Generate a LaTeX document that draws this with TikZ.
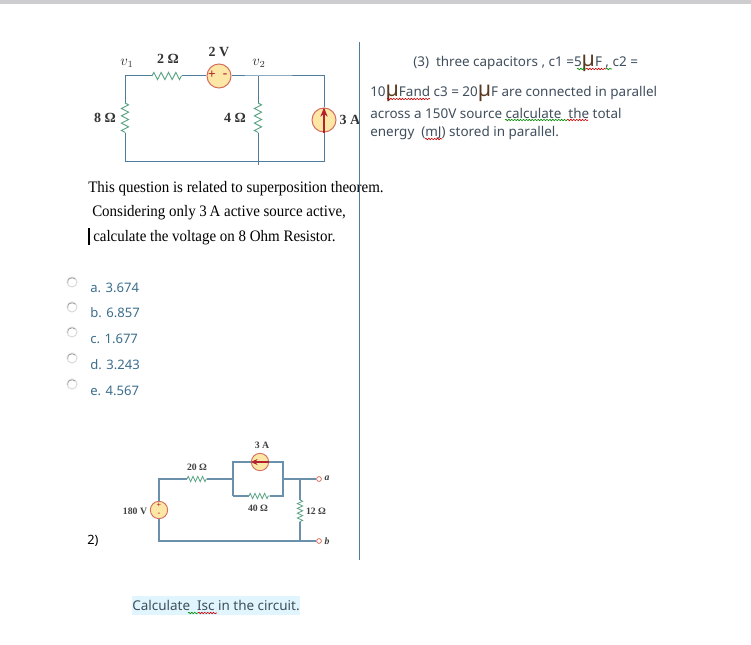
\documentclass[tikz,border=0pt]{standalone}
\usepackage{fontspec}
\setmainfont{Liberation Serif}
\newfontfamily\uifont{Noto Sans}
\newfontfamily\questionfont[FakeStretch=0.935]{Liberation Serif}
\usetikzlibrary{arrows.meta, decorations.pathmorphing}
\definecolor{wirecol}{HTML}{4F7C9C}
\definecolor{softwire}{HTML}{6A90AC}
\definecolor{rescol}{HTML}{5BA585}
\definecolor{srcfill}{HTML}{FCE7A6}
\definecolor{srcdraw}{HTML}{D5705E}
\definecolor{arrowcol}{HTML}{B3202E}
\definecolor{slatetext}{HTML}{3F4E5C}
\definecolor{answertext}{HTML}{3C6E8C}
\definecolor{mucol}{HTML}{5A3A1E}
\newcommand{\bigmu}{{\fontsize{16}{16}\selectfont\color{mucol}µ}}

\begin{document}
\begin{tikzpicture}[
        wire/.style = {draw=wirecol, line width=0.75pt},
        thinwire/.style = {draw=softwire, line width=0.9pt},
        resbig/.style = {draw=rescol, line width=0.7pt, decorate, decoration={zigzag, amplitude=2.7pt, segment length=5.5pt}},
        ressmall/.style = {draw=rescol, line width=0.6pt, decorate, decoration={zigzag, amplitude=2pt, segment length=3.6pt}},
        srcbig/.style = {circle, draw=srcdraw, fill=srcfill, line width=0.8pt, minimum size=18pt, inner sep=0pt},
        srcsmall/.style = {circle, draw=srcdraw, fill=srcfill, line width=0.7pt, minimum size=13pt, inner sep=0pt},
        bigval/.style = {font=\fontsize{10.5}{11}\selectfont, text=black!80, inner sep=0pt},
        smallval/.style = {font=\fontsize{7.3}{8}\selectfont\bfseries, text=black!75, inner sep=0pt},
        polarity/.style = {font=\fontsize{10}{10}\selectfont\bfseries, text=arrowcol, inner sep=0pt},
        polaritysmall/.style = {font=\fontsize{6}{6}\selectfont\bfseries, text=arrowcol, inner sep=0pt},
        question/.style = {font=\questionfont\fontsize{12}{14}\selectfont, anchor=west, inner sep=0pt, text=black},
        uitext/.style = {font=\uifont\fontsize{10.1}{12}\selectfont, text=slatetext, anchor=west, inner sep=0pt},
        answer/.style = {font=\uifont\fontsize{9.8}{12}\selectfont, text=answertext, anchor=west, inner sep=0pt},
        radiobtn/.style = {circle, draw=black!15, line width=0.7pt, minimum size=7.5pt, inner sep=0pt,
            path picture={\draw[black!60, line width=0.9pt] (path picture bounding box.center) ++(40:3.5pt) arc[start angle=40, end angle=200, radius=3.5pt];}},
        terminal/.style = {circle, draw=srcdraw, fill=white, line width=0.6pt, minimum size=3.6pt, inner sep=0pt},
        redsquig/.style = {draw=red!80!black, line width=0.45pt, decorate, decoration={snake, amplitude=0.55pt, segment length=2.2pt}},
        greensquig/.style = {draw=green!55!black, line width=0.45pt, decorate, decoration={snake, amplitude=0.55pt, segment length=2.2pt}},
        x=0.75pt,y=-0.75pt,
    ]
    \path[use as bounding box, fill=white] (0,0) rectangle (751,645);
    \fill[black!3!blue!4!gray!38] (0,0) rectangle (751,4);

    % first circuit
    \coordinate (tl) at (125,76);
    \coordinate (tr) at (324,76);
    \coordinate (bl) at (125,162);
    \coordinate (br) at (324,162);
    \coordinate (vtwo) at (258,76);
    \coordinate (midend) at (258,165);
    \coordinate (rtwoa) at (152,76);
    \coordinate (rtwob) at (182,76);
    \coordinate (reighta) at (125,103);
    \coordinate (reightb) at (125,133);
    \coordinate (rfoura) at (258,103);
    \coordinate (rfourb) at (258,133);
    \node[srcbig] (vsrc) at (219,76) {};
    \node[srcbig] (isrc) at (324,120) {};
    \node[bigval] (lbltwo) at (168,59) {\textbf{2 Ω}};
    \node[bigval] (lblvolt) at (219,52) {\textbf{2 V}};
    \node[bigval] (lblvone) at (127,63) {$v_1$};
    \node[bigval] (lblvtwo) at (259,63) {$v_2$};
    \node[bigval] (lbleight) at (105,118) {\textbf{8 Ω}};
    \node[bigval] (lblfour) at (235,118) {\textbf{4 Ω}};
    \node[bigval] (lblamp) at (350,120) {\textbf{3 A}};
    \node[polarity] (plus) at (212,75) {+};
    \node[polarity] (minus) at (225,76) {-};
    \draw[wire] (reighta) -- (tl) -- (rtwoa);
    \draw[wire] (rtwob) -- (vsrc);
    \draw[wire] (vsrc) -- (vtwo) -- (tr) -- (isrc);
    \draw[wire] (isrc) -- (br) -- (bl) -- (reightb);
    \draw[wire] (vtwo) -- (rfoura);
    \draw[wire] (rfourb) -- (midend);
    \draw[resbig] (rtwoa) -- (rtwob);
    \draw[resbig] (reighta) -- (reightb);
    \draw[resbig] (rfoura) -- (rfourb);
    \draw[arrowcol, line width=0.9pt, -{Stealth[length=7pt,width=5.5pt]}] (isrc.south) -- (isrc.north);

    % question
    \node[question] (qone) at (88,188.5) {This question is related to superposition theorem.};
    \node[question] (qtwo) at (92,212.5) {Considering only 3\,A active source active,};
    \node[question] (qthree) at (93,237.5) {calculate the voltage on 8 Ohm Resistor.};
    \coordinate (cursortop) at (89,228);
    \coordinate (cursorbot) at (89,245);
    \draw[black, line width=0.9pt] (cursortop) -- (cursorbot);

    % answers
    \node[radiobtn] (ra) at (72,282) {};
    \node[radiobtn] (rb) at (72,307) {};
    \node[radiobtn] (rc) at (72,332) {};
    \node[radiobtn] (rd) at (72,358) {};
    \node[radiobtn] (re) at (72,384) {};
    \node[answer] (aa) at (90,288) {a. 3.674};
    \node[answer] (ab) at (90,313) {b. 6.857};
    \node[answer] (ac) at (90,339) {c. 1.677};
    \node[answer] (ad) at (90,365) {d. 3.243};
    \node[answer] (ae) at (90,391) {e. 4.567};

    % second circuit
    \coordinate (stl) at (159,479);
    \coordinate (sbl) at (159,541);
    \coordinate (boxl) at (233,479);
    \coordinate (boxr) at (283,479);
    \coordinate (boxtl) at (233,462);
    \coordinate (boxtr) at (283,462);
    \coordinate (boxbl) at (233,496);
    \coordinate (boxbr) at (283,496);
    \coordinate (jta) at (300,479);
    \coordinate (jtb) at (300,541);
    \coordinate (rtwentya) at (187,479);
    \coordinate (rtwentyb) at (207,479);
    \coordinate (rfortya) at (249,496);
    \coordinate (rfortyb) at (270,496);
    \coordinate (rtwelvea) at (300,500);
    \coordinate (rtwelveb) at (300,522);
    \node[srcsmall] (vbat) at (159,510) {};
    \node[polaritysmall] (batplus) at (159,505.5) {+};
    \node[polaritysmall] (batminus) at (159,514.5) {-};
    \node[srcsmall] (ibox) at (260,462) {};
    \node[terminal] (terma) at (319,479) {};
    \node[terminal] (termb) at (319,541) {};
    \node[smallval] (lblthree) at (262,445) {3 A};
    \node[smallval] (lbltwenty) at (197,467) {20 Ω};
    \node[smallval] (lblforty) at (258,508) {40 Ω};
    \node[smallval] (lblbat) at (135,511) {180 V};
    \node[smallval] (lbltwelve) at (316,511) {12 Ω};
    \node[smallval] (lbla) at (327,478) {\textit{a}};
    \node[smallval] (lblb) at (327,541) {\textit{b}};
    \draw[thinwire] (vbat) -- (stl) -- (rtwentya);
    \draw[thinwire] (rtwentyb) -- (boxl);
    \draw[thinwire] (boxbl) -- (boxtl) -- (ibox);
    \draw[thinwire] (ibox) -- (boxtr) -- (boxbr) -- (rfortyb);
    \draw[thinwire] (rfortya) -- (boxbl);
    \draw[thinwire] (boxr) -- (terma);
    \draw[thinwire] (jta) -- (rtwelvea);
    \draw[thinwire] (rtwelveb) -- (jtb);
    \draw[thinwire] (vbat) -- (sbl) -- (termb);
    \draw[ressmall] (rtwentya) -- (rtwentyb);
    \draw[ressmall] (rfortya) -- (rfortyb);
    \draw[ressmall] (rtwelvea) -- (rtwelveb);
    \draw[arrowcol, line width=0.8pt, -{Stealth[length=5pt,width=4.5pt]}] (ibox.east) -- (ibox.west);
    \node[font=\uifont\fontsize{9.6}{12}\selectfont, text=black, anchor=west, inner sep=0pt] (two) at (87,541) {2)};

    % divider
    \coordinate (divtop) at (359.5,42);
    \coordinate (divbot) at (359.5,560);
    \draw[draw=wirecol, line width=0.8pt] (divtop) -- (divbot);

    % right column
    \node[uitext] (lone) at (413,63) {(3)\ \ three capacitors , c1 =5\bigmu F , c2 =};
    \node[uitext] (ltwo) at (370,93) {10\bigmu Fand c3 = 20\bigmu F are connected in parallel};
    \node[uitext] (lthree) at (370,113) {across a 150V source calculate\ \ the total};
    \node[uitext] (lfour) at (370,133) {energy\ \ (mJ) stored in parallel.};
    \coordinate (sqa) at (577,69);
    \coordinate (sqb) at (586,69);
    \coordinate (sqc) at (606,69);
    \coordinate (sqd) at (612,69);
    \coordinate (sqe) at (387,99);
    \coordinate (sqf) at (430,99);
    \coordinate (sqg) at (505,120);
    \coordinate (sqh) at (567,120);
    \coordinate (sqi) at (588,120);
    \coordinate (sqj) at (425,139);
    \coordinate (sqk) at (442,139);
    \draw[greensquig] (sqa) -- (sqb);
    \draw[redsquig] (sqb) -- (sqc);
    \draw[greensquig] (sqc) -- (sqd);
    \draw[redsquig] (sqe) -- (sqf);
    \draw[greensquig] (sqg) -- (sqh);
    \draw[redsquig] (sqh) -- (sqi);
    \draw[redsquig] (sqj) -- (sqk);

    % last line
    \node[fill=cyan!12, text=slatetext, font=\uifont\fontsize{10.1}{12}\selectfont, inner sep=0pt, minimum width=124.5pt, minimum height=14pt] (calc) at (216,605.5) {Calculate\ \ Isc in the circuit.};
    \coordinate (sql) at (188,613);
    \coordinate (sqm) at (198,613);
    \coordinate (sqn) at (217,613);
    \draw[greensquig] (sql) -- (sqm);
    \draw[redsquig] (sqm) -- (sqn);
\end{tikzpicture}
\end{document}
